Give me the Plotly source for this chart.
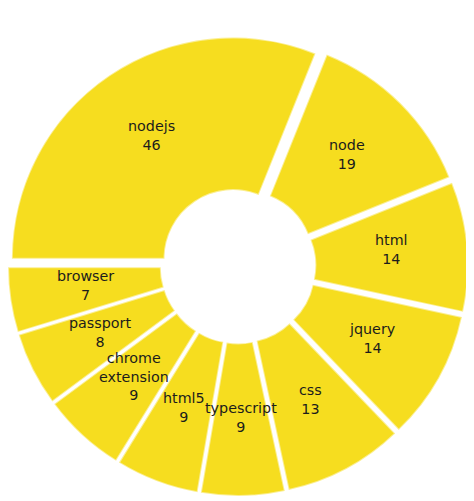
import math
import plotly.graph_objects as go

# tag counts, largest first
labels = ["nodejs", "node", "html", "jquery", "css", "typescript",
          "html5", "chrome extension", "passport", "browser"]
values = [46, 19, 14, 14, 13, 9, 9, 9, 8, 7]

START_ANGLE = 270      # first slice starts at 9 o'clock, going clockwise
LABEL_R = 0.67         # labels sit on one ring, like the original
LABEL_DY = 0.013       # small upward nudge of the label block
DOMAIN_X = [0.0, 0.9705]
DOMAIN_Y = [0.0259, 0.9441]

# slice mid angles (clockwise from 12 o'clock) -> label spots on a unit box
total = sum(values)
lab_x, lab_y = [], []
acc = 0
for v in values:
    a = math.radians(START_ANGLE + (acc + v / 2) / total * 360)
    lab_x.append(LABEL_R * math.sin(a))
    lab_y.append(LABEL_R * math.cos(a) + LABEL_DY)
    acc += v

shown = [lab.replace(" ", "<br>") + "<br>" + str(v) for lab, v in zip(labels, values)]

fig = go.Figure()

fig.add_trace(
    go.Pie(
        labels=labels,
        values=values,
        textinfo="none",
        hole=0.31,
        pull=0.04,
        sort=False,
        direction="clockwise",
        rotation=-90,
        marker=dict(
            colors=["#f6dd1f"] * len(labels),
            line=dict(color="rgba(255,255,255,0.5)", width=2),
        ),
        hoverinfo="label+value",
        domain=dict(x=DOMAIN_X, y=DOMAIN_Y),
    )
)

# invisible anchor trace so the hidden axes exist for the label annotations
fig.add_trace(
    go.Scatter(x=lab_x, y=lab_y, mode="markers",
               marker=dict(opacity=0), hoverinfo="skip")
)

for x, y, t in zip(lab_x, lab_y, shown):
    fig.add_annotation(
        x=x, y=y, xref="x", yref="y", text=t, showarrow=False,
        xanchor="center", yanchor="middle", align="center",
        font=dict(family="DejaVu Sans", size=14.3, color="#1c1c1c"),
    )

fig.update_layout(
    width=474,
    height=501,
    margin=dict(l=0, r=0, t=0, b=0),
    showlegend=False,
    paper_bgcolor="white",
    plot_bgcolor="rgba(0,0,0,0)",
    xaxis=dict(domain=DOMAIN_X, range=[-1, 1], visible=False, fixedrange=True),
    yaxis=dict(domain=DOMAIN_Y, range=[-1, 1], visible=False, fixedrange=True),
)

fig.write_html("out.html")
